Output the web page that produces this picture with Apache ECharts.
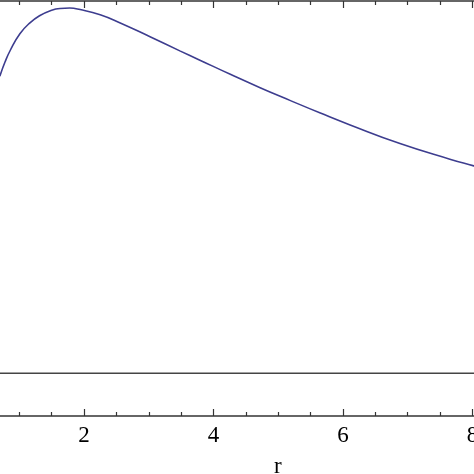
<!DOCTYPE html>
<html>
<head>
<meta charset="utf-8">
<script src="https://cdn.jsdelivr.net/npm/echarts@6/dist/echarts.min.js"></script>
<style>html,body{margin:0;padding:0;background:#fff}#c{width:474px;height:474px}</style>
</head>
<body>
<div id="c"></div>
<script>
const rValues = [0.70, 0.78, 0.86, 1.01, 1.17, 1.32, 1.48, 1.63, 1.78, 1.94, 2.25, 2.56, 3.02, 3.48, 3.79, 4.26, 4.72, 5.18, 5.65, 6.11, 6.88, 7.65, 8.02, 8.3];
const yValues = [0.798, 0.836, 0.867, 0.912, 0.942, 0.961, 0.974, 0.980, 0.981, 0.977, 0.963, 0.941, 0.904, 0.866, 0.841, 0.803, 0.767, 0.733, 0.699, 0.667, 0.617, 0.575, 0.557, 0.543];
const baseLineR = [0, 10];
const baseLineY = [0, 0];
const xTicks = [0, 2, 4, 6, 8, 10];
const xName = 'r';

const chart = echarts.init(document.getElementById('c'), null, {renderer: 'canvas'});
const axisCommon = {
  type: 'value', min: xTicks[0], max: xTicks[xTicks.length - 1], interval: 2,
  axisLine: {show: true, onZero: false, lineStyle: {color: '#333', width: 1.5}},
  axisTick: {show: true, inside: true, length: 7, lineStyle: {color: '#333', width: 1.2}},
  minorTick: {show: true, splitNumber: 4, length: 4, lineStyle: {color: '#333', width: 1.2}},
  splitLine: {show: false}
};
chart.setOption({
  animation: false,
  backgroundColor: '#fff',
  grid: {left: -45.5, top: 1, width: 647.5, height: 415, containLabel: false, outerBoundsMode: 'none'},
  xAxis: [
    Object.assign({}, axisCommon, {
      position: 'bottom',
      axisLabel: {show: true, margin: 8, color: '#000', fontFamily: 'Liberation Serif', fontSize: 23}
    }),
    Object.assign({}, axisCommon, {
      position: 'top',
      axisLabel: {show: false}
    })
  ],
  yAxis: {type: 'value', min: -0.115, max: 1.0, show: false},
  graphic: [{
    type: 'text', left: 274, top: 455,
    style: {text: xName, fill: '#000', font: '23px "Liberation Serif"'}
  }],
  series: [
    {
      type: 'line', xAxisIndex: 0, data: rValues.map((r, i) => [r, yValues[i]]),
      smooth: 0.5, showSymbol: false, symbol: 'none',
      lineStyle: {color: '#3d3d8f', width: 1.6}
    },
    {
      type: 'line', xAxisIndex: 0, data: baseLineR.map((r, i) => [r, baseLineY[i]]),
      showSymbol: false, symbol: 'none',
      lineStyle: {color: '#444', width: 1.5}
    }
  ]
});
</script>
</body>
</html>
